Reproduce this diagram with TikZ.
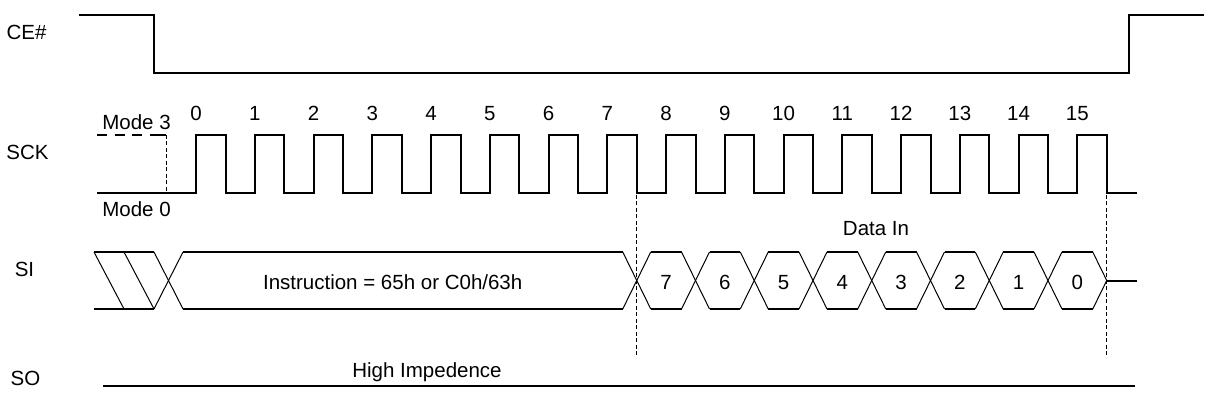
\documentclass[tikz,border=0pt]{standalone}
\usepackage{fontspec}
\setmainfont{Liberation Sans}
\begin{document}
\begin{tikzpicture}[x=1pt,y=-1pt,
  sig/.style={line width=2pt, line join=miter},
  bus/.style={line width=1.6pt},
  edgeline/.style={line width=1pt},
  guide/.style={line width=0.8pt, dash pattern=on 4pt off 2.5pt},
  lbl/.style={font=\fontsize{20.5}{24}\selectfont, anchor=base, inner sep=0pt}]
\useasboundingbox (0,0) rectangle (1218,406);

% signal names
\node[lbl] (ce)  at (26.5,39.5)  {CE\#};
\node[lbl] (sck) at (27.5,159.5) {SCK};
\node[lbl] (si)  at (24.5,276.5) {SI};
\node[lbl] (so)  at (25.5,385.5) {SO};

% CE#
\draw[sig] (79,15) -- (154,15) -- (154,73) -- (1129,73) -- (1129,15) -- (1204,15);

% SCK
\node[lbl] (m3) at (136.5,129.5) {Mode 3};
\node[lbl] (m0) at (136.5,216.5) {Mode 0};
\draw[line width=2pt, dash pattern=on 10pt off 7.5pt on 10pt off 7.5pt on 10pt off 7.5pt on 20pt off 0pt] (97,135) -- (166,135);
\draw[guide] (166,135) -- (166,193);
\draw[sig] (97,193)
  foreach \k in {0,...,15} { -- ({196+58.75*\k},193) -- ({196+58.75*\k},135)
     -- ({225.5+58.75*\k},135) -- ({225.5+58.75*\k},193) }
  -- (1137,193);
\foreach \k in {0,...,15}
  \node[lbl] (n\k) at ({196+58.75*\k},120.5) {\k};

% SI
\draw[bus] (94,252) -- (154,252);
\draw[bus] (94,309) -- (154,309);
\draw[edgeline] (94,252) -- (124,309);
\draw[edgeline] (124,252) -- (154,309);
\draw[edgeline] (154,252) -- (183,309);
\draw[edgeline] (154,309) -- (183,252);
\draw[bus] (183,252) -- (622.75,252);
\draw[bus] (183,309) -- (622.75,309);
\node[lbl] (instr) at (392.7,289.5) {Instruction = 65h or C0h/63h};
\foreach \j in {0,...,7} {
  \pgfmathsetmacro{\c}{636.75+58.75*\j}
  \draw[edgeline] ({\c-14},252) -- ({\c+14},309);
  \draw[edgeline] ({\c-14},309) -- ({\c+14},252);
  \draw[bus] ({\c+14},252) -- ({\c+58.75-14},252);
  \draw[bus] ({\c+14},309) -- ({\c+58.75-14},309);
}
\foreach \j [evaluate=\j as \b using int(7-\j)] in {0,...,7}
  \node[lbl] (d\j) at ({636.75+58.75*\j+29.375},289.5) {\b};
\draw[edgeline] (1092.75,252) -- (1106.75,280.5) -- (1092.75,309);
\draw[sig] (1106.75,280.5) -- (1137,280.5);
\node[lbl] (datain) at (876,235.5) {Data In};

% guides
\draw[guide] (636.75,195) -- (636.75,356);
\draw[guide] (1106.75,195) -- (1106.75,357);

% SO
\draw[sig] (103,386) -- (1135,386);
\node[lbl] (hiz) at (427,377.5) {High Impedence};
\end{tikzpicture}
\end{document}
